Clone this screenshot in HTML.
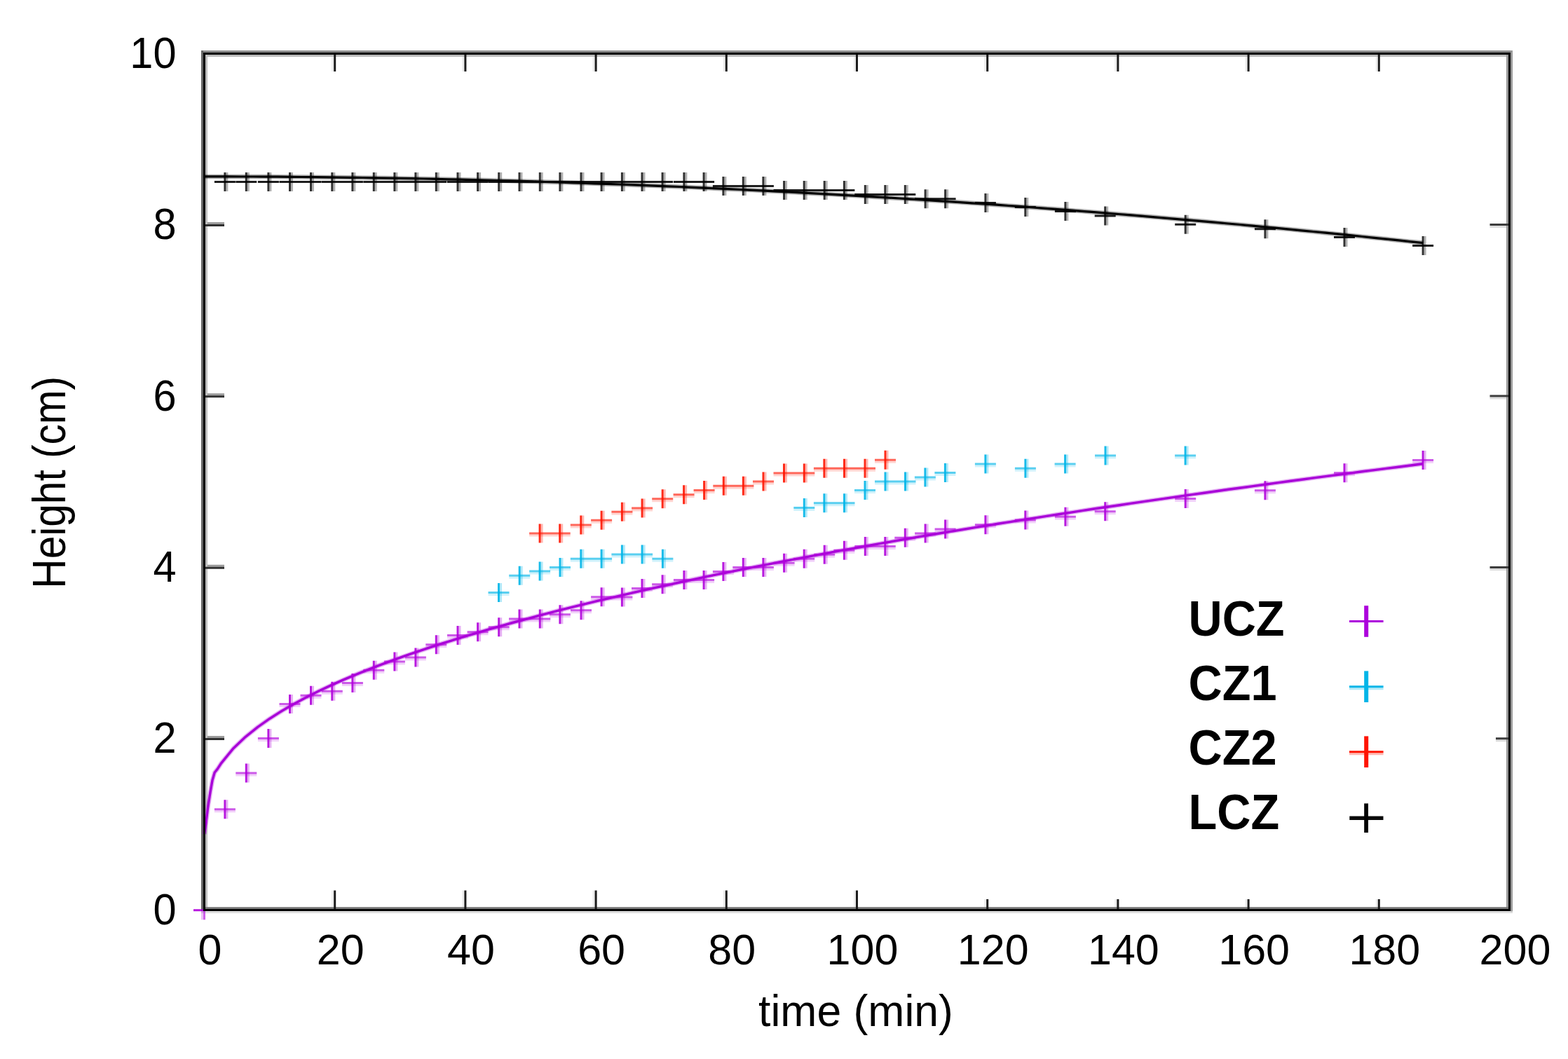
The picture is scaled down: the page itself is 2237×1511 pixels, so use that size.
<!DOCTYPE html>
<html><head><meta charset="utf-8"><title>Height vs time</title>
<style>html,body{margin:0;padding:0;background:#fff;}body{width:2237px;height:1511px;overflow:hidden;}svg{display:block;}</style>
</head><body>
<svg width="2237" height="1511" viewBox="0 0 2237 1511">
<rect width="2237" height="1511" fill="#fff"/>
<rect x="287" y="72" width="1871.0" height="3.0" fill="#8c8c8c"/>
<rect x="293" y="78" width="1859.0" height="3.0" fill="#bbb"/>
<rect x="287" y="72" width="3.0" height="1228.0" fill="#666"/>
<rect x="293" y="78" width="3.0" height="1219.0" fill="#bfbfbf"/>
<rect x="2149" y="78" width="3.0" height="1219.0" fill="#999"/>
<rect x="2155" y="72" width="3.0" height="1231.0" fill="#999"/>
<rect x="293" y="1294.2" width="1859.0" height="2.9" fill="#777"/>
<rect x="287" y="1300.3" width="1871.0" height="2.7" fill="#ddd"/>
<path d="M474.7 81V102 M474.7 1294V1270.5 M660.9 81V102 M660.9 1294V1270.5 M847.1 81V102 M847.1 1294V1270.5 M1033.3 81V102 M1033.3 1294V1270.5 M1219.5 81V102 M1219.5 1294V1270.5 M1405.7 81V102 M1405.7 1294V1283.0 M1591.9 81V102 M1591.9 1294V1283.0 M1778.1 81V102 M1778.1 1294V1283.0 M1964.3 81V102 M1964.3 1294V1283.0" stroke="#ececec" stroke-width="3" fill="none"/>
<path d="M477.7 78V102 M477.7 1297V1270.5 M663.9 78V102 M663.9 1297V1270.5 M850.1 78V102 M850.1 1297V1270.5 M1036.3 78V102 M1036.3 1297V1270.5 M1222.5 78V102 M1222.5 1297V1270.5 M1408.7 78V102 M1408.7 1297V1283.0 M1594.9 78V102 M1594.9 1297V1283.0 M1781.1 78V102 M1781.1 1297V1283.0 M1967.3 78V102 M1967.3 1297V1283.0" stroke="#1c1c1c" stroke-width="3" fill="none"/>
<path d="M296 1051.6H320 M296 807.2H320 M296 562.8H320 M296 318.4H320" stroke="#9c9c9c" stroke-width="3" fill="none"/>
<path d="M293 1054.6H320 M293 810.2H320 M293 565.8H320 M293 321.4H320" stroke="#303030" stroke-width="3" fill="none"/>
<path d="M2149 1056.8H2134.0 M2149 812.4H2125.5 M2149 568.0H2125.5 M2149 323.6H2125.5" stroke="#dcdcdc" stroke-width="3" fill="none"/>
<path d="M2152 1053.8H2134.0 M2152 809.4H2125.5 M2152 565.0H2125.5 M2152 320.6H2125.5" stroke="#3c3c3c" stroke-width="3" fill="none"/>
<text transform="translate(251.5 1318.7) scale(1 1.05)" font-family="&quot;Liberation Sans&quot;, sans-serif" font-size="59.5" text-anchor="end" fill="#000">0</text>
<text transform="translate(251.5 1074.3) scale(1 1.05)" font-family="&quot;Liberation Sans&quot;, sans-serif" font-size="59.5" text-anchor="end" fill="#000">2</text>
<text transform="translate(251.5 829.9) scale(1 1.05)" font-family="&quot;Liberation Sans&quot;, sans-serif" font-size="59.5" text-anchor="end" fill="#000">4</text>
<text transform="translate(251.5 585.5) scale(1 1.05)" font-family="&quot;Liberation Sans&quot;, sans-serif" font-size="59.5" text-anchor="end" fill="#000">6</text>
<text transform="translate(251.5 341.1) scale(1 1.05)" font-family="&quot;Liberation Sans&quot;, sans-serif" font-size="59.5" text-anchor="end" fill="#000">8</text>
<text transform="translate(251.5 96.7) scale(1 1.05)" font-family="&quot;Liberation Sans&quot;, sans-serif" font-size="59.5" text-anchor="end" fill="#000">10</text>
<text x="299.5" y="1376" font-family="&quot;Liberation Sans&quot;, sans-serif" font-size="61" text-anchor="middle">0</text>
<text x="485.7" y="1376" font-family="&quot;Liberation Sans&quot;, sans-serif" font-size="61" text-anchor="middle">20</text>
<text x="671.9" y="1376" font-family="&quot;Liberation Sans&quot;, sans-serif" font-size="61" text-anchor="middle">40</text>
<text x="858.1" y="1376" font-family="&quot;Liberation Sans&quot;, sans-serif" font-size="61" text-anchor="middle">60</text>
<text x="1044.3" y="1376" font-family="&quot;Liberation Sans&quot;, sans-serif" font-size="61" text-anchor="middle">80</text>
<text x="1230.5" y="1376" font-family="&quot;Liberation Sans&quot;, sans-serif" font-size="61" text-anchor="middle">100</text>
<text x="1416.7" y="1376" font-family="&quot;Liberation Sans&quot;, sans-serif" font-size="61" text-anchor="middle">120</text>
<text x="1602.9" y="1376" font-family="&quot;Liberation Sans&quot;, sans-serif" font-size="61" text-anchor="middle">140</text>
<text x="1789.1" y="1376" font-family="&quot;Liberation Sans&quot;, sans-serif" font-size="61" text-anchor="middle">160</text>
<text x="1975.3" y="1376" font-family="&quot;Liberation Sans&quot;, sans-serif" font-size="61" text-anchor="middle">180</text>
<text x="2161.5" y="1376" font-family="&quot;Liberation Sans&quot;, sans-serif" font-size="61" text-anchor="middle">200</text>
<text x="1221" y="1464.4" font-family="&quot;Liberation Sans&quot;, sans-serif" font-size="62.5" text-anchor="middle">time (min)</text>
<text transform="translate(92.6 688.3) rotate(-90) scale(1 1.123)" font-family="&quot;Liberation Sans&quot;, sans-serif" font-size="58.6" text-anchor="middle">Height (cm)</text>
<polyline points="291.5,251.9 308.9,251.9 326.3,251.9 343.7,252.0 361.0,252.0 378.4,252.1 395.8,252.2 413.2,252.4 430.6,252.5 448.0,252.7 465.4,252.9 482.8,253.1 500.1,253.3 517.5,253.5 534.9,253.8 552.3,254.1 569.7,254.4 587.1,254.7 604.5,255.0 621.8,255.4 639.2,255.8 656.6,256.2 674.0,256.6 691.4,257.0 708.8,257.5 726.2,257.9 743.5,258.4 760.9,258.9 778.3,259.5 795.7,260.0 813.1,260.6 830.5,261.2 847.9,261.8 865.3,262.4 882.6,263.0 900.0,263.7 917.4,264.4 934.8,265.1 952.2,265.8 969.6,266.5 987.0,267.3 1004.3,268.1 1021.7,268.9 1039.1,269.7 1056.5,270.5 1073.9,271.3 1091.3,272.2 1108.7,273.1 1126.0,274.0 1143.4,274.9 1160.8,275.9 1178.2,276.8 1195.6,277.8 1213.0,278.8 1230.4,279.8 1247.8,280.9 1265.1,281.9 1282.5,283.0 1299.9,284.1 1317.3,285.2 1334.7,286.3 1352.1,287.5 1369.5,288.6 1386.8,289.8 1404.2,291.0 1421.6,292.2 1439.0,293.5 1456.4,294.7 1473.8,296.0 1491.2,297.3 1508.5,298.6 1525.9,299.9 1543.3,301.3 1560.7,302.7 1578.1,304.1 1595.5,305.5 1612.9,306.9 1630.3,308.3 1647.6,309.8 1665.0,311.3 1682.4,312.8 1699.8,314.3 1717.2,315.8 1734.6,317.4 1752.0,319.0 1769.3,320.5 1786.7,322.2 1804.1,323.8 1821.5,325.4 1838.9,327.1 1856.3,328.8 1873.7,330.5 1891.1,332.2 1908.4,333.9 1925.8,335.7 1943.2,337.5 1960.6,339.3 1978.0,341.1 1995.4,342.9 2012.8,344.8 2030.1,346.6" fill="none" stroke="#000" stroke-opacity="0.3" stroke-width="6.5" stroke-linejoin="round"/>
<polyline points="291.5,251.9 308.9,251.9 326.3,251.9 343.7,252.0 361.0,252.0 378.4,252.1 395.8,252.2 413.2,252.4 430.6,252.5 448.0,252.7 465.4,252.9 482.8,253.1 500.1,253.3 517.5,253.5 534.9,253.8 552.3,254.1 569.7,254.4 587.1,254.7 604.5,255.0 621.8,255.4 639.2,255.8 656.6,256.2 674.0,256.6 691.4,257.0 708.8,257.5 726.2,257.9 743.5,258.4 760.9,258.9 778.3,259.5 795.7,260.0 813.1,260.6 830.5,261.2 847.9,261.8 865.3,262.4 882.6,263.0 900.0,263.7 917.4,264.4 934.8,265.1 952.2,265.8 969.6,266.5 987.0,267.3 1004.3,268.1 1021.7,268.9 1039.1,269.7 1056.5,270.5 1073.9,271.3 1091.3,272.2 1108.7,273.1 1126.0,274.0 1143.4,274.9 1160.8,275.9 1178.2,276.8 1195.6,277.8 1213.0,278.8 1230.4,279.8 1247.8,280.9 1265.1,281.9 1282.5,283.0 1299.9,284.1 1317.3,285.2 1334.7,286.3 1352.1,287.5 1369.5,288.6 1386.8,289.8 1404.2,291.0 1421.6,292.2 1439.0,293.5 1456.4,294.7 1473.8,296.0 1491.2,297.3 1508.5,298.6 1525.9,299.9 1543.3,301.3 1560.7,302.7 1578.1,304.1 1595.5,305.5 1612.9,306.9 1630.3,308.3 1647.6,309.8 1665.0,311.3 1682.4,312.8 1699.8,314.3 1717.2,315.8 1734.6,317.4 1752.0,319.0 1769.3,320.5 1786.7,322.2 1804.1,323.8 1821.5,325.4 1838.9,327.1 1856.3,328.8 1873.7,330.5 1891.1,332.2 1908.4,333.9 1925.8,335.7 1943.2,337.5 1960.6,339.3 1978.0,341.1 1995.4,342.9 2012.8,344.8 2030.1,346.6" fill="none" stroke="#000" stroke-width="3.2" stroke-linejoin="round"/>
<polyline points="291.5,1190 293.9,1173.7 296.7,1151.4 299.8,1131.6 303,1113.3 306.2,1102.2 310.1,1097.4 315.7,1088.8 333.0,1067.7 350.3,1051.3 367.7,1037.4 385.0,1025.2 402.3,1014.2 419.6,1004.2 436.9,995.0 454.2,986.3 471.6,978.1 488.9,970.4 506.2,963.1 523.5,956.1 540.8,949.4 558.2,942.9 575.5,936.7 592.8,930.7 610.1,924.9 627.4,919.2 644.7,913.8 662.1,908.4 679.4,903.3 696.7,898.2 714.0,893.3 731.3,888.5 748.6,883.8 766.0,879.2 783.3,874.6 800.6,870.2 817.9,865.9 835.2,861.6 852.5,857.4 869.9,853.3 887.2,849.3 904.5,845.3 921.8,841.4 939.1,837.6 956.5,833.8 973.8,830.0 991.1,826.3 1008.4,822.7 1025.7,819.1 1043.0,815.6 1060.4,812.1 1077.7,808.7 1095.0,805.3 1112.3,801.9 1129.6,798.6 1146.9,795.3 1164.3,792.1 1181.6,788.9 1198.9,785.7 1216.2,782.6 1233.5,779.5 1250.9,776.4 1268.2,773.4 1285.5,770.4 1302.8,767.4 1320.1,764.4 1337.4,761.5 1354.8,758.6 1372.1,755.8 1389.4,752.9 1406.7,750.1 1424.0,747.3 1441.3,744.6 1458.7,741.8 1476.0,739.1 1493.3,736.4 1510.6,733.7 1527.9,731.1 1545.3,728.4 1562.6,725.8 1579.9,723.2 1597.2,720.7 1614.5,718.1 1631.8,715.6 1649.2,713.1 1666.5,710.6 1683.8,708.1 1701.1,705.6 1718.4,703.2 1735.7,700.8 1753.1,698.3 1770.4,696.0 1787.7,693.6 1805.0,691.2 1822.3,688.9 1839.6,686.5 1857.0,684.2 1874.3,681.9 1891.6,679.6 1908.9,677.4 1926.2,675.1 1943.6,672.8 1960.9,670.6 1978.2,668.4 1995.5,666.2 2012.8,664.0 2030.1,661.8" fill="none" stroke="#a800d8" stroke-opacity="0.3" stroke-width="6.5" stroke-linejoin="round"/>
<polyline points="291.5,1190 293.9,1173.7 296.7,1151.4 299.8,1131.6 303,1113.3 306.2,1102.2 310.1,1097.4 315.7,1088.8 333.0,1067.7 350.3,1051.3 367.7,1037.4 385.0,1025.2 402.3,1014.2 419.6,1004.2 436.9,995.0 454.2,986.3 471.6,978.1 488.9,970.4 506.2,963.1 523.5,956.1 540.8,949.4 558.2,942.9 575.5,936.7 592.8,930.7 610.1,924.9 627.4,919.2 644.7,913.8 662.1,908.4 679.4,903.3 696.7,898.2 714.0,893.3 731.3,888.5 748.6,883.8 766.0,879.2 783.3,874.6 800.6,870.2 817.9,865.9 835.2,861.6 852.5,857.4 869.9,853.3 887.2,849.3 904.5,845.3 921.8,841.4 939.1,837.6 956.5,833.8 973.8,830.0 991.1,826.3 1008.4,822.7 1025.7,819.1 1043.0,815.6 1060.4,812.1 1077.7,808.7 1095.0,805.3 1112.3,801.9 1129.6,798.6 1146.9,795.3 1164.3,792.1 1181.6,788.9 1198.9,785.7 1216.2,782.6 1233.5,779.5 1250.9,776.4 1268.2,773.4 1285.5,770.4 1302.8,767.4 1320.1,764.4 1337.4,761.5 1354.8,758.6 1372.1,755.8 1389.4,752.9 1406.7,750.1 1424.0,747.3 1441.3,744.6 1458.7,741.8 1476.0,739.1 1493.3,736.4 1510.6,733.7 1527.9,731.1 1545.3,728.4 1562.6,725.8 1579.9,723.2 1597.2,720.7 1614.5,718.1 1631.8,715.6 1649.2,713.1 1666.5,710.6 1683.8,708.1 1701.1,705.6 1718.4,703.2 1735.7,700.8 1753.1,698.3 1770.4,696.0 1787.7,693.6 1805.0,691.2 1822.3,688.9 1839.6,686.5 1857.0,684.2 1874.3,681.9 1891.6,679.6 1908.9,677.4 1926.2,675.1 1943.6,672.8 1960.9,670.6 1978.2,668.4 1995.5,666.2 2012.8,664.0 2030.1,661.8" fill="none" stroke="#a800d8" stroke-width="3.4" stroke-linejoin="round"/>
<path d="M305.9 1157.8h30.0 M336.3 1105.9h30.0 M367.9 1056.5h30.0 M398.5 1007.5h30.0 M428.5 995.3h30.0 M458.8 989.3h30.0 M487.9 977.6h30.0 M518.3 959.3h30.0 M547.9 947.1h30.0 M577.9 941.0h30.0 M607.3 922.7h30.0 M638.0 909.5h30.0 M666.6 904.8h30.0 M696.7 897.7h30.0 M726.0 886.0h30.0 M755.3 886.0h30.0 M783.9 879.8h30.0 M814.0 873.8h30.0 M843.1 854.8h30.0 M872.4 855.0h30.0 M901.0 842.6h30.0 M930.1 836.7h30.0 M960.9 830.4h30.0 M989.1 830.4h30.0 M1016.9 818.4h30.0 M1045.3 812.5h30.0 M1073.9 812.5h30.0 M1103.6 806.3h30.0 M1132.2 800.2h30.0 M1161.2 794.3h30.0 M1189.4 788.2h30.0 M1219.3 782.4h30.0 M1247.8 782.5h30.0 M1276.3 770.3h30.0 M1305.1 764.1h30.0 M1333.6 758.1h30.0 M1390.9 751.7h30.0 M1447.8 745.0h30.0 M1504.9 740.3h30.0 M1561.7 732.8h30.0 M1676.2 714.5h30.0 M1789.9 702.7h30.0 M1903.0 677.7h30.0 M2015.1 659.4h30.0" stroke="#b000dc" stroke-width="3" stroke-opacity="0.18" fill="none"/>
<path d="M323.9 1141.3v27.0 M354.3 1089.4v27.0 M385.9 1040.0v27.0 M416.5 991.0v27.0 M446.5 978.8v27.0 M476.8 972.8v27.0 M505.9 961.1v27.0 M536.3 942.8v27.0 M565.9 930.6v27.0 M595.9 924.5v27.0 M625.3 906.2v27.0 M656.0 893.0v27.0 M684.6 888.3v27.0 M714.7 881.2v27.0 M744.0 869.5v27.0 M773.3 869.5v27.0 M801.9 863.3v27.0 M832.0 857.3v27.0 M861.1 838.3v27.0 M890.4 838.5v27.0 M919.0 826.1v27.0 M948.1 820.2v27.0 M978.9 813.9v27.0 M1007.1 813.9v27.0 M1034.9 801.9v27.0 M1063.3 796.0v27.0 M1091.9 796.0v27.0 M1121.6 789.8v27.0 M1150.2 783.7v27.0 M1179.2 777.8v27.0 M1207.4 771.7v27.0 M1237.3 765.9v27.0 M1265.8 766.0v27.0 M1294.3 753.8v27.0 M1323.1 747.6v27.0 M1351.6 741.6v27.0 M1408.9 735.2v27.0 M1465.8 728.5v27.0 M1522.9 723.8v27.0 M1579.7 716.3v27.0 M1694.2 698.0v27.0 M1807.9 686.2v27.0 M1921.0 661.2v27.0 M2033.1 642.9v27.0" stroke="#b000dc" stroke-width="3" stroke-opacity="0.3" fill="none"/>
<path d="M305.9 1154.8h30.0 M336.3 1102.9h30.0 M367.9 1053.5h30.0 M398.5 1004.5h30.0 M428.5 992.3h30.0 M458.8 986.3h30.0 M487.9 974.6h30.0 M518.3 956.3h30.0 M547.9 944.1h30.0 M577.9 938.0h30.0 M607.3 919.7h30.0 M638.0 906.5h30.0 M666.6 901.8h30.0 M696.7 894.7h30.0 M726.0 883.0h30.0 M755.3 883.0h30.0 M783.9 876.8h30.0 M814.0 870.8h30.0 M843.1 851.8h30.0 M872.4 852.0h30.0 M901.0 839.6h30.0 M930.1 833.7h30.0 M960.9 827.4h30.0 M989.1 827.4h30.0 M1016.9 815.4h30.0 M1045.3 809.5h30.0 M1073.9 809.5h30.0 M1103.6 803.3h30.0 M1132.2 797.2h30.0 M1161.2 791.3h30.0 M1189.4 785.2h30.0 M1219.3 779.4h30.0 M1247.8 779.5h30.0 M1276.3 767.3h30.0 M1305.1 761.1h30.0 M1333.6 755.1h30.0 M1390.9 748.7h30.0 M1447.8 742.0h30.0 M1504.9 737.3h30.0 M1561.7 729.8h30.0 M1676.2 711.5h30.0 M1789.9 699.7h30.0 M1903.0 674.7h30.0 M2015.1 656.4h30.0" stroke="#b000dc" stroke-width="3" stroke-opacity="0.65" fill="none"/>
<path d="M320.9 1141.3v27.0 M351.3 1089.4v27.0 M382.9 1040.0v27.0 M413.5 991.0v27.0 M443.5 978.8v27.0 M473.8 972.8v27.0 M502.9 961.1v27.0 M533.3 942.8v27.0 M562.9 930.6v27.0 M592.9 924.5v27.0 M622.3 906.2v27.0 M653.0 893.0v27.0 M681.6 888.3v27.0 M711.7 881.2v27.0 M741.0 869.5v27.0 M770.3 869.5v27.0 M798.9 863.3v27.0 M829.0 857.3v27.0 M858.1 838.3v27.0 M887.4 838.5v27.0 M916.0 826.1v27.0 M945.1 820.2v27.0 M975.9 813.9v27.0 M1004.1 813.9v27.0 M1031.9 801.9v27.0 M1060.3 796.0v27.0 M1088.9 796.0v27.0 M1118.6 789.8v27.0 M1147.2 783.7v27.0 M1176.2 777.8v27.0 M1204.4 771.7v27.0 M1234.3 765.9v27.0 M1262.8 766.0v27.0 M1291.3 753.8v27.0 M1320.1 747.6v27.0 M1348.6 741.6v27.0 M1405.9 735.2v27.0 M1462.8 728.5v27.0 M1519.9 723.8v27.0 M1576.7 716.3v27.0 M1691.2 698.0v27.0 M1804.9 686.2v27.0 M1918.0 661.2v27.0 M2030.1 642.9v27.0" stroke="#b000dc" stroke-width="3" stroke-opacity="0.9" fill="none"/>
<path d="M276 1298.7H291" stroke="#b000dc" stroke-width="3" stroke-opacity="0.9" fill="none"/>
<path d="M291.5 1300V1312.3" stroke="#b000dc" stroke-width="3" stroke-opacity="0.62" fill="none"/>
<path d="M288.5 1300V1312.3" stroke="#b000dc" stroke-width="3" stroke-opacity="0.25" fill="none"/>
<path d="M696.5 848.5h30.0 M726.2 824.3h30.0 M755.1 818.1h30.0 M784.0 812.4h30.0 M813.8 800.3h30.0 M843.1 800.3h30.0 M872.4 794.1h30.0 M901.1 794.1h30.0 M930.4 800.3h30.0 M1132.3 727.6h30.0 M1160.9 720.8h30.0 M1189.5 720.8h30.0 M1219.0 702.6h30.0 M1248.0 690.1h30.0 M1276.5 689.9h30.0 M1304.9 684.0h30.0 M1333.4 677.5h30.0 M1390.9 664.9h30.0 M1447.9 671.2h30.0 M1504.6 664.9h30.0 M1562.0 652.9h30.0 M1676.1 652.9h30.0" stroke="#00b5e8" stroke-width="3" stroke-opacity="0.18" fill="none"/>
<path d="M714.5 832.0v27.0 M744.2 807.8v27.0 M773.1 801.6v27.0 M802.0 795.9v27.0 M831.8 783.8v27.0 M861.1 783.8v27.0 M890.4 777.6v27.0 M919.1 777.6v27.0 M948.4 783.8v27.0 M1150.3 711.1v27.0 M1178.9 704.3v27.0 M1207.5 704.3v27.0 M1237.0 686.1v27.0 M1266.0 673.6v27.0 M1294.5 673.4v27.0 M1322.9 667.5v27.0 M1351.4 661.0v27.0 M1408.9 648.4v27.0 M1465.9 654.7v27.0 M1522.6 648.4v27.0 M1580.0 636.4v27.0 M1694.1 636.4v27.0" stroke="#00b5e8" stroke-width="3" stroke-opacity="0.3" fill="none"/>
<path d="M696.5 845.5h30.0 M726.2 821.3h30.0 M755.1 815.1h30.0 M784.0 809.4h30.0 M813.8 797.3h30.0 M843.1 797.3h30.0 M872.4 791.1h30.0 M901.1 791.1h30.0 M930.4 797.3h30.0 M1132.3 724.6h30.0 M1160.9 717.8h30.0 M1189.5 717.8h30.0 M1219.0 699.6h30.0 M1248.0 687.1h30.0 M1276.5 686.9h30.0 M1304.9 681.0h30.0 M1333.4 674.5h30.0 M1390.9 661.9h30.0 M1447.9 668.2h30.0 M1504.6 661.9h30.0 M1562.0 649.9h30.0 M1676.1 649.9h30.0" stroke="#00b5e8" stroke-width="3" stroke-opacity="0.65" fill="none"/>
<path d="M711.5 832.0v27.0 M741.2 807.8v27.0 M770.1 801.6v27.0 M799.0 795.9v27.0 M828.8 783.8v27.0 M858.1 783.8v27.0 M887.4 777.6v27.0 M916.1 777.6v27.0 M945.4 783.8v27.0 M1147.3 711.1v27.0 M1175.9 704.3v27.0 M1204.5 704.3v27.0 M1234.0 686.1v27.0 M1263.0 673.6v27.0 M1291.5 673.4v27.0 M1319.9 667.5v27.0 M1348.4 661.0v27.0 M1405.9 648.4v27.0 M1462.9 654.7v27.0 M1519.6 648.4v27.0 M1577.0 636.4v27.0 M1691.1 636.4v27.0" stroke="#00b5e8" stroke-width="3" stroke-opacity="0.9" fill="none"/>
<path d="M755.1 764.1h30.0 M783.7 764.1h30.0 M813.8 752.0h30.0 M843.1 745.2h30.0 M872.4 733.3h30.0 M901.1 728.0h30.0 M930.2 714.7h30.0 M960.6 708.8h30.0 M989.6 702.6h30.0 M1017.3 696.3h30.0 M1045.4 696.3h30.0 M1074.0 690.1h30.0 M1103.5 678.1h30.0 M1132.3 678.1h30.0 M1160.9 671.3h30.0 M1189.5 671.3h30.0 M1219.0 671.3h30.0 M1248.0 659.3h30.0" stroke="#ff1400" stroke-width="3" stroke-opacity="0.18" fill="none"/>
<path d="M773.1 747.6v27.0 M801.7 747.6v27.0 M831.8 735.5v27.0 M861.1 728.7v27.0 M890.4 716.8v27.0 M919.1 711.5v27.0 M948.2 698.2v27.0 M978.6 692.3v27.0 M1007.6 686.1v27.0 M1035.3 679.8v27.0 M1063.4 679.8v27.0 M1092.0 673.6v27.0 M1121.5 661.6v27.0 M1150.3 661.6v27.0 M1178.9 654.8v27.0 M1207.5 654.8v27.0 M1237.0 654.8v27.0 M1266.0 642.8v27.0" stroke="#ff1400" stroke-width="3" stroke-opacity="0.3" fill="none"/>
<path d="M755.1 761.1h30.0 M783.7 761.1h30.0 M813.8 749.0h30.0 M843.1 742.2h30.0 M872.4 730.3h30.0 M901.1 725.0h30.0 M930.2 711.7h30.0 M960.6 705.8h30.0 M989.6 699.6h30.0 M1017.3 693.3h30.0 M1045.4 693.3h30.0 M1074.0 687.1h30.0 M1103.5 675.1h30.0 M1132.3 675.1h30.0 M1160.9 668.3h30.0 M1189.5 668.3h30.0 M1219.0 668.3h30.0 M1248.0 656.3h30.0" stroke="#ff1400" stroke-width="3" stroke-opacity="0.65" fill="none"/>
<path d="M770.1 747.6v27.0 M798.7 747.6v27.0 M828.8 735.5v27.0 M858.1 728.7v27.0 M887.4 716.8v27.0 M916.1 711.5v27.0 M945.2 698.2v27.0 M975.6 692.3v27.0 M1004.6 686.1v27.0 M1032.3 679.8v27.0 M1060.4 679.8v27.0 M1089.0 673.6v27.0 M1118.5 661.6v27.0 M1147.3 661.6v27.0 M1175.9 654.8v27.0 M1204.5 654.8v27.0 M1234.0 654.8v27.0 M1263.0 642.8v27.0" stroke="#ff1400" stroke-width="3" stroke-opacity="0.9" fill="none"/>
<path d="M323.9 246.0v27.0 M354.3 246.0v27.0 M385.9 246.0v27.0 M416.5 246.0v27.0 M446.5 246.0v27.0 M476.8 246.0v27.0 M505.9 246.0v27.0 M536.3 246.0v27.0 M565.9 246.0v27.0 M595.9 246.0v27.0 M625.3 246.0v27.0 M656.0 246.0v27.0 M684.6 246.0v27.0 M714.7 246.0v27.0 M744.0 246.0v27.0 M773.3 246.0v27.0 M801.9 246.0v27.0 M832.0 246.0v27.0 M861.1 246.0v27.0 M890.4 246.0v27.0 M919.0 246.0v27.0 M948.1 246.0v27.0 M978.9 246.0v27.0 M1007.1 246.0v27.0 M1034.9 252.0v27.0 M1063.3 252.0v27.0 M1091.9 252.0v27.0 M1121.6 258.0v27.0 M1150.2 258.0v27.0 M1179.2 258.0v27.0 M1207.4 258.0v27.0 M1237.3 264.0v27.0 M1265.8 264.0v27.0 M1294.3 264.0v27.0 M1323.1 270.3v27.0 M1351.6 270.3v27.0 M1408.9 276.0v27.0 M1465.8 282.1v27.0 M1522.9 288.0v27.0 M1579.7 294.5v27.0 M1694.2 306.8v27.0 M1807.9 313.3v27.0 M1921.0 324.9v27.0 M2033.1 337.0v27.0" stroke="#000" stroke-width="3" stroke-opacity="0.3" fill="none"/>
<path d="M305.9 259.5h30.0 M336.3 259.5h30.0 M367.9 259.5h30.0 M398.5 259.5h30.0 M428.5 259.5h30.0 M458.8 259.5h30.0 M487.9 259.5h30.0 M518.3 259.5h30.0 M547.9 259.5h30.0 M577.9 259.5h30.0 M607.3 259.5h30.0 M638.0 259.5h30.0 M666.6 259.5h30.0 M696.7 259.5h30.0 M726.0 259.5h30.0 M755.3 259.5h30.0 M783.9 259.5h30.0 M814.0 259.5h30.0 M843.1 259.5h30.0 M872.4 259.5h30.0 M901.0 259.5h30.0 M930.1 259.5h30.0 M960.9 259.5h30.0 M989.1 259.5h30.0 M1016.9 265.5h30.0 M1045.3 265.5h30.0 M1073.9 265.5h30.0 M1103.6 271.5h30.0 M1132.2 271.5h30.0 M1161.2 271.5h30.0 M1189.4 271.5h30.0 M1219.3 277.5h30.0 M1247.8 277.5h30.0 M1276.3 277.5h30.0 M1305.1 283.8h30.0 M1333.6 283.8h30.0 M1390.9 289.5h30.0 M1447.8 295.6h30.0 M1504.9 301.5h30.0 M1561.7 308.0h30.0 M1676.2 320.3h30.0 M1789.9 326.8h30.0 M1903.0 338.4h30.0 M2015.1 350.5h30.0" stroke="#000" stroke-width="3" stroke-opacity="0.88" fill="none"/>
<path d="M320.9 246.0v27.0 M351.3 246.0v27.0 M382.9 246.0v27.0 M413.5 246.0v27.0 M443.5 246.0v27.0 M473.8 246.0v27.0 M502.9 246.0v27.0 M533.3 246.0v27.0 M562.9 246.0v27.0 M592.9 246.0v27.0 M622.3 246.0v27.0 M653.0 246.0v27.0 M681.6 246.0v27.0 M711.7 246.0v27.0 M741.0 246.0v27.0 M770.3 246.0v27.0 M798.9 246.0v27.0 M829.0 246.0v27.0 M858.1 246.0v27.0 M887.4 246.0v27.0 M916.0 246.0v27.0 M945.1 246.0v27.0 M975.9 246.0v27.0 M1004.1 246.0v27.0 M1031.9 252.0v27.0 M1060.3 252.0v27.0 M1088.9 252.0v27.0 M1118.6 258.0v27.0 M1147.2 258.0v27.0 M1176.2 258.0v27.0 M1204.4 258.0v27.0 M1234.3 264.0v27.0 M1262.8 264.0v27.0 M1291.3 264.0v27.0 M1320.1 270.3v27.0 M1348.6 270.3v27.0 M1405.9 276.0v27.0 M1462.8 282.1v27.0 M1519.9 288.0v27.0 M1576.7 294.5v27.0 M1691.2 306.8v27.0 M1804.9 313.3v27.0 M1918.0 324.9v27.0 M2030.1 337.0v27.0" stroke="#000" stroke-width="3" stroke-opacity="0.8" fill="none"/>
<rect x="291.5" y="76.5" width="1862" height="1222" fill="none" stroke="#000" stroke-width="3"/>
<text transform="translate(1695.5 907.2) scale(0.96 1)" font-family="&quot;Liberation Sans&quot;, sans-serif" font-weight="bold" font-size="69.5">UCZ</text>
<path d="M1925 886.5h48.6" stroke="#ad00dc" stroke-width="3" fill="none"/>
<path d="M1949.2 864.2v44.6" stroke="#ad00dc" stroke-width="6" fill="none"/>
<text transform="translate(1695.5 999.1) scale(0.96 1)" font-family="&quot;Liberation Sans&quot;, sans-serif" font-weight="bold" font-size="69.5">CZ1</text>
<path d="M1925 982.7h48.6" stroke="#00b5e8" stroke-width="3" stroke-opacity="0.3" fill="none"/>
<path d="M1925 979.7h48.6" stroke="#00b5e8" stroke-width="3" fill="none"/>
<path d="M1949.2 957.4000000000001v44.6" stroke="#00b5e8" stroke-width="6" fill="none"/>
<text transform="translate(1695.5 1090.8) scale(0.96 1)" font-family="&quot;Liberation Sans&quot;, sans-serif" font-weight="bold" font-size="69.5">CZ2</text>
<path d="M1925 1075.7h48.6" stroke="#ff1400" stroke-width="3" stroke-opacity="0.3" fill="none"/>
<path d="M1925 1072.7h48.6" stroke="#ff1400" stroke-width="3" fill="none"/>
<path d="M1949.2 1050.4v44.6" stroke="#ff1400" stroke-width="6" fill="none"/>
<text transform="translate(1695.5 1182.5) scale(0.96 1)" font-family="&quot;Liberation Sans&quot;, sans-serif" font-weight="bold" font-size="69.5">LCZ</text>
<path d="M1925.3 1167.2h48.2" stroke="#0a0a0a" stroke-width="5.6" fill="none"/>
<path d="M1949.1 1146.4V1188" stroke="#000" stroke-width="5.8" fill="none"/>
</svg>
</body></html>
